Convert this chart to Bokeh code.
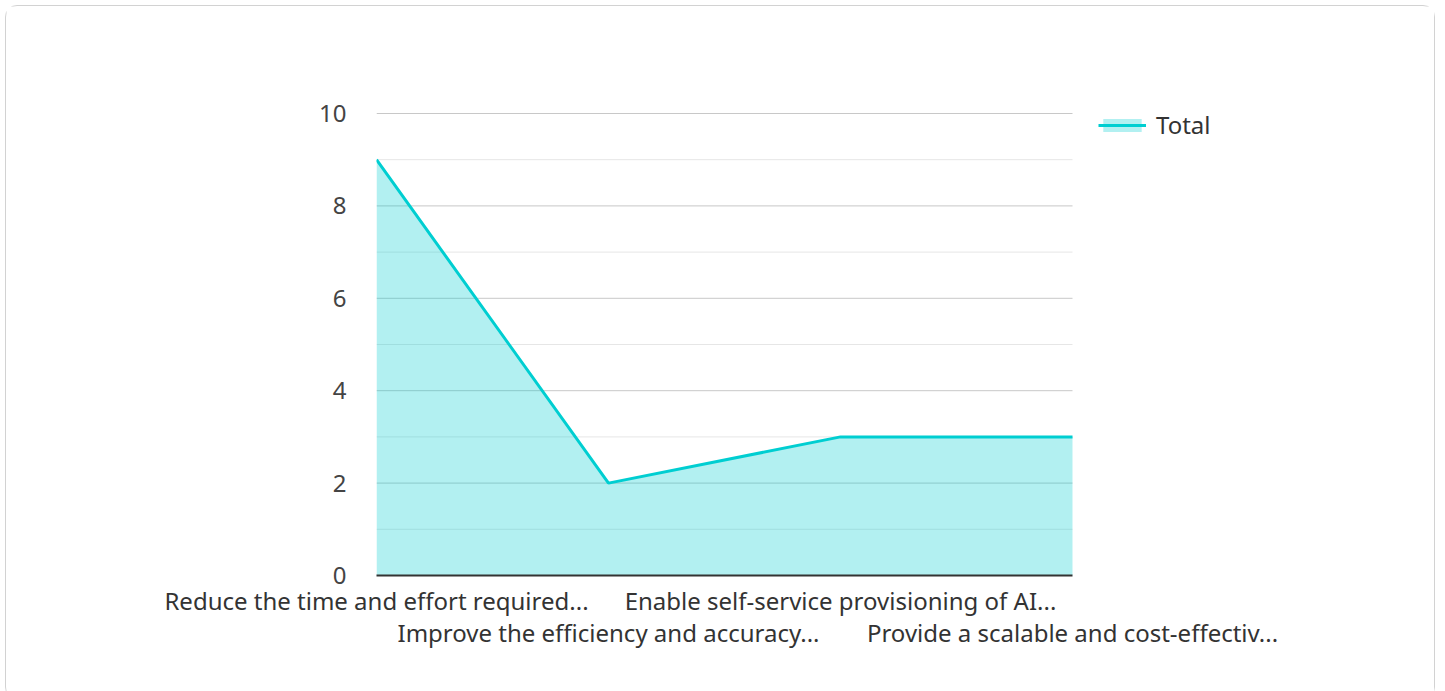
from bokeh.plotting import figure
from bokeh.models import (Range1d, LinearAxis, FixedTicker, SingleIntervalTicker,
                          Legend, LegendItem, ColumnDataSource)
from bokeh.embed import file_html
from bokeh.resources import INLINE

categories = [
    "Reduce the time and effort required...",
    "Improve the efficiency and accuracy...",
    "Enable self-service provisioning of AI...",
    "Provide a scalable and cost-effectiv...",
]
totals = [9, 2, 3, 3]
series_name = "Total"
y_max = 10

FONT = "Noto Sans"
FS = "24px"
CYAN = "#00CED1"

n = len(categories)
src = ColumnDataSource(dict(x=list(range(n)), y=totals, zero=[0] * n))

# frame extends to the right / top beyond the data area so that the legend fits
p = figure(width=1430, height=694, output_backend="svg", toolbar_location=None,
           x_range=Range1d(0, (n - 1) * 924 / 696), y_range=Range1d(0, y_max * 485 / 462),
           min_border_left=370, min_border_right=136, min_border_top=84,
           min_border_bottom=125, x_axis_type=None, y_axis_type=None)
p.outline_line_color = None
p.styles = {"border": "1.5px solid #d2d2d2", "border-radius": "12px",
            "margin-left": "5px", "margin-top": "5px"}

# grid lines limited to the data area (major every 2, minor in between)
major_levels = [v for v in range(2, y_max + 1, 2)]
minor_levels = [v for v in range(1, y_max, 2)]
p.segment(x0=[0] * len(minor_levels), x1=[n - 1] * len(minor_levels),
          y0=minor_levels, y1=minor_levels, line_color="#e6e6e6", line_width=1)
p.segment(x0=[0] * len(major_levels), x1=[n - 1] * len(major_levels),
          y0=major_levels, y1=major_levels, line_color="#c8c8c8", line_width=1)

# y axis
yax = LinearAxis(ticker=SingleIntervalTicker(interval=2), bounds=(0, y_max))
yax.axis_line_color = None
yax.major_tick_line_color = None
yax.minor_tick_line_color = None
yax.major_label_text_font = FONT
yax.major_label_text_font_size = FS
yax.major_label_text_color = "#444444"
yax.major_label_standoff = 24
p.add_layout(yax, "left")

# x axes (staggered labels)
idx = list(range(n))
even = [i for i in idx if i % 2 == 0]
odd = [i for i in idx if i % 2 == 1]

xax1 = LinearAxis(ticker=FixedTicker(ticks=even), bounds=(0, n - 1),
                  major_label_overrides={i: categories[i] for i in even})
xax2 = LinearAxis(ticker=FixedTicker(ticks=odd), bounds=(0, n - 1),
                  major_label_overrides={i: categories[i] for i in odd})
for ax in (xax1, xax2):
    ax.major_tick_line_color = None
    ax.minor_tick_line_color = None
    ax.major_label_text_font = FONT
    ax.major_label_text_font_size = FS
    ax.major_label_text_color = "#333333"
xax1.axis_line_color = "#333333"
xax1.axis_line_width = 2
xax1.major_label_standoff = 2
xax2.axis_line_color = None
xax2.major_label_standoff = -10
p.add_layout(xax1, "below")
p.add_layout(xax2, "below")

area = p.varea(x="x", y1="zero", y2="y", source=src, fill_color=CYAN, fill_alpha=0.3)
line = p.line(x="x", y="y", source=src, line_color=CYAN, line_width=3)

legend = Legend(items=[LegendItem(label=series_name, renderers=[area, line])],
                location=(722, 434))
legend.border_line_color = None
legend.background_fill_alpha = 0
legend.padding = 0
legend.margin = 0
legend.glyph_width = 48
legend.glyph_height = 16
legend.label_text_font = FONT
legend.label_text_font_size = FS
legend.label_text_color = "#333333"
legend.label_standoff = 10
p.add_layout(legend, "center")

open("out.html", "w").write(file_html(p, INLINE))
